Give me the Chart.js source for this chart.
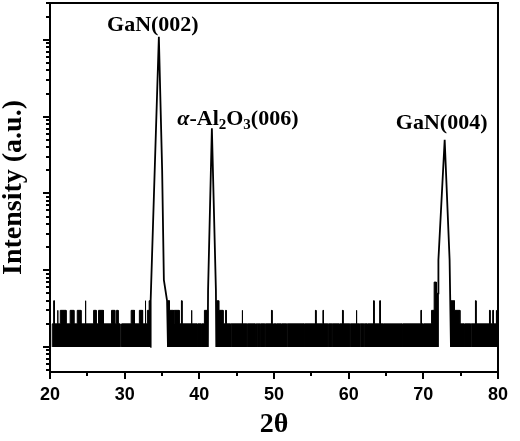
<!DOCTYPE html>
<html>
<head>
<meta charset="utf-8">
<script src="https://cdn.jsdelivr.net/npm/chart.js@4/dist/chart.umd.min.js"></script>
<style>
  html, body { margin: 0; padding: 0; background: #fff; }
</style>
</head>
<body>
<canvas id="xrd" width="520" height="441"></canvas>
<script>
// background noise band: 2theta where the level changes, and the counts from there on
var bandX = [20.30, 20.50, 20.58, 21.00, 21.07, 21.38, 22.15, 22.70, 23.20, 23.65, 24.15, 24.72, 24.80,
  25.84, 26.18, 26.50, 27.15, 28.24, 28.68, 28.90, 29.12, 29.38, 29.58, 30.87, 31.31, 31.97, 32.40,
  32.74, 32.82, 33.04, 33.28, 33.45, 35.80, 36.00, 36.55, 36.63, 37.30, 37.60, 37.68, 38.93, 39.00,
  39.72, 39.80, 40.25, 40.32, 40.68, 41.12, 42.28, 42.60, 43.18, 43.52, 43.60, 44.18, 44.25, 45.72,
  45.80, 46.36, 46.43, 47.46, 47.53, 47.68, 47.74, 48.11, 48.18, 48.77, 48.84, 49.66, 49.74, 49.88,
  49.94, 50.32, 50.38, 50.98, 51.04, 51.70, 51.77, 54.02, 54.08, 55.55, 55.63, 56.55, 56.63, 57.21,
  57.28, 57.75, 57.80, 58.75, 58.82, 59.17, 59.25, 60.15, 60.22, 61.01, 61.09, 61.47, 61.54, 62.03,
  62.09, 62.47, 62.53, 63.33, 63.41, 64.16, 64.24, 64.66, 64.72, 67.15, 67.22, 69.67, 69.75, 70.00,
  70.07, 71.10, 71.45, 71.75, 71.97, 73.70, 74.17, 74.90, 75.46, 75.53, 76.34, 76.41, 76.98, 77.06,
  78.86, 78.94, 79.30, 79.38, 79.74, 79.82, 80.00];
var bandY = [2, 4, 2, 3, 2, 3, 2, 3, 2, 3, 2, 4, 2,
  3, 2, 3, 2, 3, 2, 3, 2, 1, 2, 3, 2, 3, 2,
  4, 2, 3, 4, 1, 4, 3, 2, 3, 2, 4, 2, 3, 2,
  1, 2, 1, 2, 3, 1, 4, 3, 2, 3, 2, 1, 2, 3,
  2, 1, 2, 1, 2, 1, 2, 1, 2, 1, 2, 3, 2, 1,
  2, 1, 2, 1, 2, 1, 2, 1, 2, 3, 2, 3, 2, 1,
  2, 1, 2, 1, 2, 3, 2, 1, 2, 3, 2, 1, 2, 1,
  2, 1, 2, 4, 2, 4, 2, 1, 2, 1, 2, 3, 2, 1,
  2, 3, 7, 5, 1, 4, 3, 2, 1, 2, 1, 2, 4, 2,
  3, 2, 3, 2, 3, 2, 2];

// peak profiles
var gan002X = [33.42, 33.48, 34.58, 35.02, 35.25, 35.68, 35.80];
var gan002Y = [1, 4, 11000, 200, 7.5, 4, 1];
var al006X = [41.12, 41.17, 41.68, 42.22, 42.28];
var al006Y = [1, 5.5, 708, 5.5, 1];
var gan004X = [71.97, 72.02, 72.86, 73.52, 73.70];
var gan004Y = [5, 13.6, 500, 13.6, 1];

var xMajor = [20, 30, 40, 50, 60, 70, 80];
var yDecades = [0.1, 1, 10, 100, 1000, 10000];

function pts(xs, ys) {
  return xs.map(function (x, i) { return {x: x, y: ys[i]}; });
}

// level holds from one change to the next: add the corner points
function steps(xs, ys) {
  var out = [{x: xs[0], y: 1}];
  xs.forEach(function (x, i) {
    if (i > 0) out.push({x: x, y: ys[i - 1]});
    out.push({x: x, y: ys[i]});
  });
  return out;
}

function drawParts(ctx, parts, cx, base) {
  var total = 0;
  parts.forEach(function (p) { ctx.font = p[1]; total += ctx.measureText(p[0]).width; });
  var x = cx - total / 2;
  parts.forEach(function (p) {
    ctx.font = p[1];
    ctx.fillText(p[0], x, base + p[2]);
    x += ctx.measureText(p[0]).width;
  });
}

// frame, tick marks and peak labels
var frameTicks = {
  id: 'frameTicks',
  afterDraw: function (chart) {
    var ctx = chart.ctx, a = chart.chartArea;
    var xs = chart.scales.x, ys = chart.scales.y;
    ctx.save();
    ctx.strokeStyle = '#000';
    ctx.lineWidth = 2;
    ctx.strokeRect(a.left, a.top, a.right - a.left, a.bottom - a.top);
    ctx.beginPath();
    for (var v = 20; v <= 80; v += 5) {
      var px = Math.round(xs.getPixelForValue(v));
      var len = xMajor.indexOf(v) >= 0 ? 7 : 4;
      ctx.moveTo(px, a.bottom);
      ctx.lineTo(px, a.bottom + len);
    }
    yDecades.forEach(function (d) {
      for (var k = 1; k <= 9; k++) {
        var val = k * d;
        if (val < ys.min || val > ys.max) continue;
        var py = Math.round(ys.getPixelForValue(val));
        ctx.moveTo(a.left, py);
        ctx.lineTo(a.left - (k == 1 ? 7 : 4), py);
      }
    });
    ctx.stroke();

    ctx.fillStyle = '#000';
    ctx.textBaseline = 'alphabetic';
    var b = 'bold 22px "Liberation Serif"';
    var sub = 'bold 15px "Liberation Serif"';
    drawParts(ctx, [['GaN(002)', b, 0]], xs.getPixelForValue(34.58) - 6, ys.getPixelForValue(11000) - 6);
    drawParts(ctx, [['\u03b1', 'italic bold 22px "Liberation Serif"', 0], ['-Al', b, 0], ['2', sub, 4],
      ['O', b, 0], ['3', sub, 4], ['(006)', b, 0]],
      xs.getPixelForValue(41.68) + 26, ys.getPixelForValue(708) - 3);
    drawParts(ctx, [['GaN(004)', b, 0]], xs.getPixelForValue(72.86) - 3, ys.getPixelForValue(500) - 11);
    ctx.restore();
  }
};

function lineSet(data, extra) {
  var ds = {
    data: data,
    borderColor: '#000',
    borderWidth: 1.8,
    pointRadius: 0,
    tension: 0,
    fill: false
  };
  for (var k in extra) ds[k] = extra[k];
  return ds;
}

// no stroke along the floor where the band drops out
var floorHidden = {
  borderColor: function (c) {
    return (c.p0.parsed.y === 1 && c.p1.parsed.y === 1) ? 'rgba(0,0,0,0)' : undefined;
  }
};

new Chart(document.getElementById('xrd'), {
  type: 'line',
  data: {
    datasets: [
      lineSet(pts(gan002X, gan002Y), {}),
      lineSet(pts(al006X, al006Y), {}),
      lineSet(pts(gan004X, gan004Y), {}),
      lineSet(steps(bandX, bandY), {borderWidth: 1, fill: {value: 1}, backgroundColor: '#000', segment: floorHidden})
    ]
  },
  options: {
    responsive: false,
    animation: false,
    devicePixelRatio: 1,
    layout: {padding: {left: 0, right: 13, top: 3, bottom: 0}},
    plugins: {legend: {display: false}, tooltip: {enabled: false}},
    scales: {
      x: {
        type: 'linear',
        min: 20,
        max: 80,
        grid: {display: false, drawTicks: false},
        border: {display: false},
        ticks: {
          stepSize: 10,
          padding: 12,
          color: '#000',
          font: {family: '"Liberation Sans"', size: 18, weight: 'bold'}
        },
        title: {
          display: true,
          text: '2\u03b8',
          color: '#000',
          font: {family: '"Liberation Serif"', size: 28, weight: 'bold', lineHeight: 1},
          padding: {top: 0, bottom: 2}
        },
        afterFit: function (s) { s.height = 69; }
      },
      y: {
        type: 'logarithmic',
        min: 0.472,
        max: 30300,
        grid: {display: false, drawTicks: false},
        border: {display: false},
        ticks: {display: false},
        title: {
          display: true,
          text: 'Intensity (a.u.)',
          color: '#000',
          font: {family: '"Liberation Serif"', size: 28, weight: 'bold', lineHeight: 1},
          padding: {top: 0, bottom: 0}
        },
        afterFit: function (s) { s.width = 50; }
      }
    }
  },
  plugins: [frameTicks]
});
</script>
</body>
</html>
